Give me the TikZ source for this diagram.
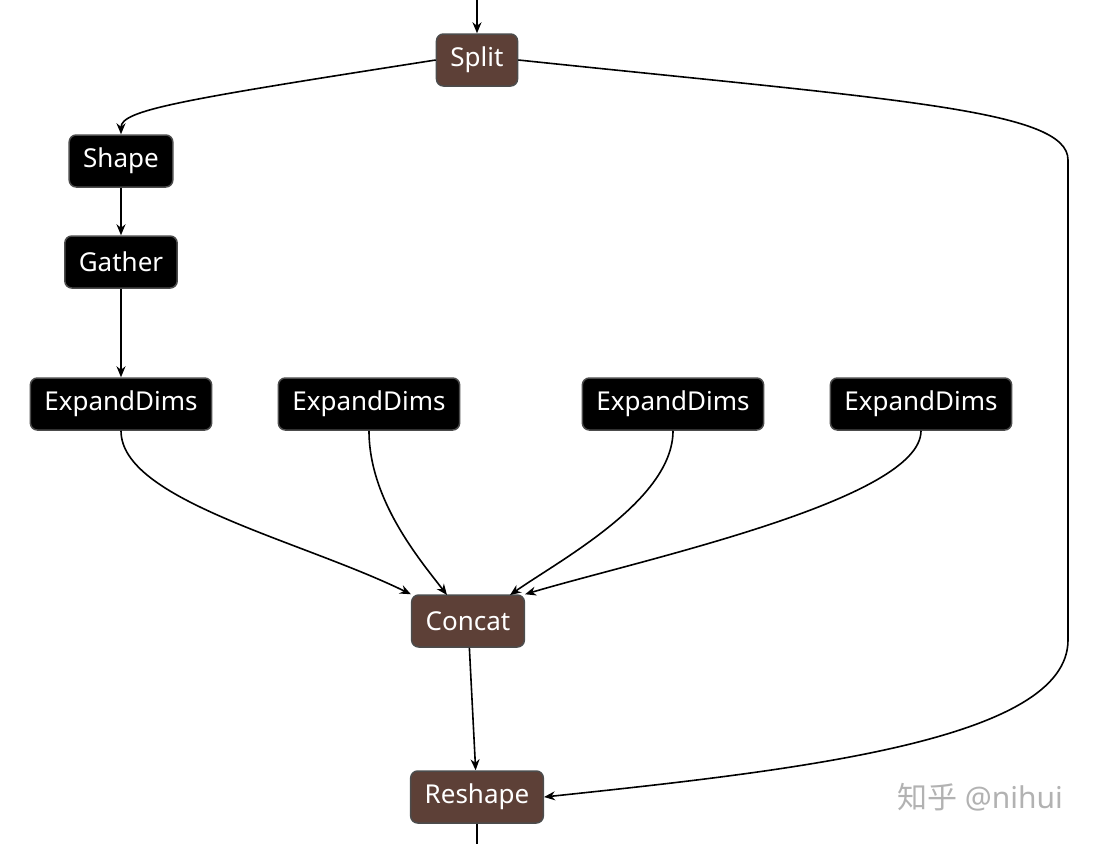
\documentclass[tikz,border=0pt]{standalone}
\usepackage{fontspec}
\setmainfont{Noto Sans}
\newfontfamily\cjk{Noto Sans CJK SC}
\usetikzlibrary{arrows.meta}
\definecolor{opbrown}{HTML}{5D4037}
\begin{document}
\begin{tikzpicture}[x=1pt,y=-1pt]
        \tikzset{op/.style={draw=black!70,line width=1.5pt,rounded corners=7pt,minimum height=52pt,text=white,font=\fontsize{26}{30}\selectfont,inner xsep=14pt},
            gen/.style={op,fill=black},
            main/.style={op,fill=opbrown},
            flow/.style={-{Stealth[length=11pt,width=9pt]},line width=1.6pt}}
        \useasboundingbox (0,0) rectangle (1102,844);
            \node[main] (split) at (477,60) {Split};
            \node[gen] (shape) at (121,161) {Shape};
            \node[gen] (gather) at (121,262) {Gather};
            \node[gen] (ea) at (121,404) {ExpandDims};
            \node[gen] (eb) at (369,404) {ExpandDims};
            \node[gen] (ec) at (673,404) {ExpandDims};
            \node[gen] (ed) at (921,404) {ExpandDims};
            \node[main] (concat) at (468,621) {Concat};
            \node[main] (reshape) at (477,797) {Reshape};
            \coordinate (in) at (477,0);
            \coordinate (out) at (477,844);
            \coordinate (r1) at (1068,160);
            \coordinate (r2) at (1068,640);
            \node[text=black!30,font=\fontsize{30}{34}\selectfont] (mark) at (980,797) {{\cjk 知乎} @nihui};

            \draw[flow] (in) -- (split);
            \draw[flow] (split.west) .. controls (180,100) and (121,110) .. (shape.north);
            \draw[flow] (shape) -- (gather);
            \draw[flow] (gather) -- (ea);
            \draw[flow] (ea.south) .. controls (121,500) and (300,540) .. (concat.north west);
            \draw[flow] (eb.south) .. controls (369,500) and (420,560) .. (447,595);
            \draw[flow] (ec.south) .. controls (673,500) and (560,560) .. (510,595);
            \draw[flow] (ed.south) .. controls (921,500) and (640,560) .. (concat.north east);
            \draw[flow] (concat) -- (reshape);
            \draw[line width=1.6pt] (split.east) .. controls (900,100) and (1068,110) .. (r1) -- (r2);
            \draw[flow] (r2) .. controls (1068,740) and (800,770) .. (reshape.east);
            \draw[line width=1.6pt] (reshape) -- (out);
        \end{tikzpicture}
\end{document}
